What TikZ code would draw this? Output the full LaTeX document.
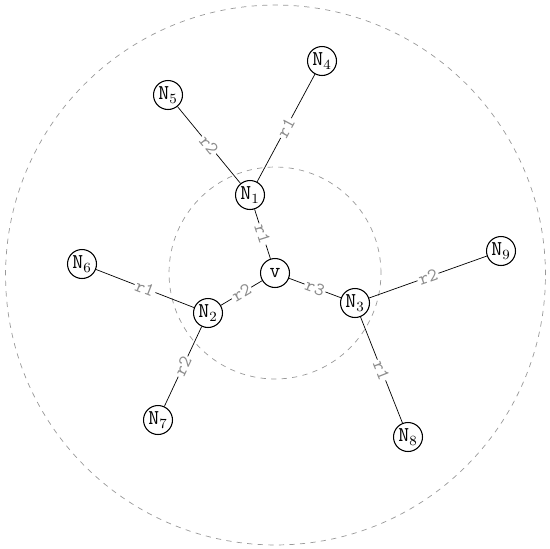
\documentclass[tikz,border=0pt]{standalone}
\usepackage{tikz}
\usetikzlibrary{positioning}

\tikzset{
    station/.style={circle, draw, line width=0.6pt, inner sep=0pt, minimum size=0.58cm,
        font=\ttfamily\fontsize{12}{14}\selectfont},
    ring/.style={draw=gray!80, dashed, thin},
    radius label/.style={midway, sloped, fill=white, inner sep=0.8pt, text=gray!90,
        font=\ttfamily\fontsize{10.5}{12}\selectfont}
}

\begin{document}
\begin{tikzpicture}[x=0.02cm, y=-0.02cm]
            \useasboundingbox (0,0) rectangle (550,548);
            % dashed rings
            \draw[ring] (275.5,275) circle[radius=5.4cm];
            \draw[ring] (275,273) circle[radius=2.12cm];

            % stations
            \node[station] (v) at (275,273) {v};
            \node[station] (n1) at (250,195) {N$_1$};
            \node[station] (n2) at (208,313) {N$_2$};
            \node[station] (n3) at (355,303) {N$_3$};
            \node[station] (n4) at (322,61) {N$_4$};
            \node[station] (n5) at (168,95) {N$_5$};
            \node[station] (n6) at (82,264) {N$_6$};
            \node[station] (n7) at (158,420) {N$_7$};
            \node[station] (n8) at (408,437) {N$_8$};
            \node[station] (n9) at (501,251) {N$_9$};

            % links
            \draw (v) -- (n1) node[radius label] {r1};
            \draw (v) -- (n2) node[radius label] {r2};
            \draw (v) -- (n3) node[radius label] {r3};
            \draw (n1) -- (n4) node[radius label] {r1};
            \draw (n1) -- (n5) node[radius label] {r2};
            \draw (n2) -- (n6) node[radius label] {r1};
            \draw (n2) -- (n7) node[radius label] {r2};
            \draw (n3) -- (n8) node[radius label] {r1};
            \draw (n3) -- (n9) node[radius label] {r2};
        \end{tikzpicture}
\end{document}
